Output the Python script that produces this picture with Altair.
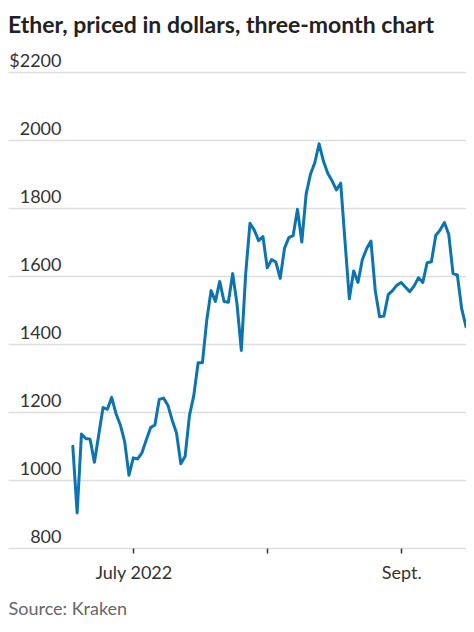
import altair as alt
import pandas as pd

# ---- data (daily closes, June 17 - Sept 16, 2022) ----
start_date = "2022-06-17"
prices = [
    # June 17-30
    1099, 903, 1135, 1122, 1120, 1052, 1133, 1213, 1208, 1243, 1195, 1162, 1113, 1014,
    # July 1-31
    1065, 1062, 1080, 1118, 1154, 1162, 1237, 1241, 1220, 1176, 1138, 1048, 1070, 1190,
    1248, 1345, 1345, 1470, 1557, 1525, 1584, 1525, 1523, 1607, 1518, 1381, 1605, 1755,
    1735, 1704, 1716,
    # Aug 1-31
    1624, 1648, 1641, 1593, 1682, 1713, 1719, 1796, 1700, 1841, 1899, 1933, 1989, 1938,
    1902, 1880, 1853, 1873, 1702, 1533, 1615, 1581, 1648, 1680, 1703, 1557, 1480, 1482,
    1545, 1557, 1573,
    # Sept 1-16
    1581, 1567, 1554, 1571, 1595, 1581, 1639, 1642, 1719, 1735, 1757, 1723, 1607, 1603,
    1504, 1451,
]
dates = pd.date_range(start_date, periods=len(prices), freq="D").strftime("%Y-%m-%dT00:00:00").tolist()

y_ticks = [800, 1000, 1200, 1400, 1600, 1800, 2000, 2200]
x_tick_dates = ["2022-07-01", "2022-08-01", "2022-09-01"]
x_tick_labels = ["July 2022", "", "Sept."]
x_domain = ["2022-06-02", "2022-09-16"]

title_text = "Ether, priced in dollars, three-month chart"
source_text = "Source: Kraken"

df = pd.DataFrame({"date": dates, "price": prices})


def dt(s):
    t = pd.Timestamp(s)
    return alt.DateTime(year=t.year, month=t.month, date=t.day)


# label expression built from the tick label list
label_expr = "''"
for d, lab in reversed(list(zip(x_tick_dates, x_tick_labels))):
    m = pd.Timestamp(d).month - 1
    label_expr = f"month(datum.value) == {m} ? '{lab}' : ({label_expr})"

y_label_expr = f"datum.value == {y_ticks[-1]} ? '$' + datum.label : datum.label"

FONT = "Lato"

line = alt.Chart(df).mark_line(
    color="#0b74b1", strokeWidth=3, strokeJoin="round", strokeCap="round"
).encode(
    x=alt.X(
        "date:T",
        scale=alt.Scale(domain=[dt(x_domain[0]), dt(x_domain[1])]),
        axis=alt.Axis(
            values=[dt(d) for d in x_tick_dates],
            labelExpr=label_expr,
            grid=False,
            domain=False,
            ticks=True,
            tickSize=5,
            tickWidth=1.5,
            tickColor="#333333",
            labelPadding=25,
            labelBaseline="alphabetic",
            labelFont=FONT,
            labelFontSize=18,
            labelColor="#333333",
            labelAlign="center",
            title=source_text,
            titleAnchor="start",
            titleAlign="left",
            titleX=0,
            titleY=66,
            titleBaseline="alphabetic",
            titleFont=FONT,
            titleFontSize=18,
            titleFontWeight="normal",
            titleColor="#666666",
        ),
    ),
    y=alt.Y(
        "price:Q",
        scale=alt.Scale(domain=[y_ticks[0], y_ticks[-1]], nice=False, zero=False),
        axis=alt.Axis(
            values=y_ticks,
            format="d",
            labelExpr=y_label_expr,
            grid=True,
            gridColor="#dedede",
            gridWidth=1.3,
            domain=False,
            ticks=False,
            tickSize=0,
            labelPadding=-53,
            labelAlign="right",
            labelBaseline="alphabetic",
            labelOffset=-6,
            labelFont=FONT,
            labelFontSize=18,
            labelColor="#333333",
            title=None,
        ),
    ),
)

chart = line.properties(
    width=458,
    height=476,
    autosize=alt.AutoSizeParams(type="none"),
    padding={"left": 0, "top": 64, "right": 0, "bottom": 70},
    title=alt.TitleParams(
        text=title_text,
        anchor="start",
        frame="group",
        font=FONT,
        fontSize=23,
        fontWeight="bold",
        color="#222222",
        offset=14,
    ),
).configure_view(stroke=None)

chart.save("out.html", embed_options={"renderer": "svg", "actions": False})
